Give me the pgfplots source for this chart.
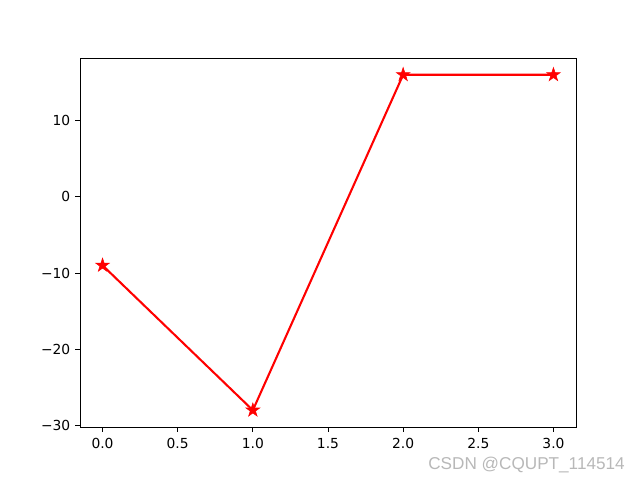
\documentclass[border=0pt]{standalone}
\usepackage{fontspec}
\setmainfont{DejaVu Sans}
\newfontfamily\wmfont{Liberation Sans}
\usepackage{pgfplots}
\pgfplotsset{compat=1.18}
\pgfdeclareplotmark{fstar}{%
  \pgfpathmoveto{\pgfpointpolar{90}{\pgfplotmarksize}}%
  \pgfpathlineto{\pgfpointpolar{126}{0.382\pgfplotmarksize}}%
  \pgfpathlineto{\pgfpointpolar{162}{\pgfplotmarksize}}%
  \pgfpathlineto{\pgfpointpolar{198}{0.382\pgfplotmarksize}}%
  \pgfpathlineto{\pgfpointpolar{234}{\pgfplotmarksize}}%
  \pgfpathlineto{\pgfpointpolar{270}{0.382\pgfplotmarksize}}%
  \pgfpathlineto{\pgfpointpolar{306}{\pgfplotmarksize}}%
  \pgfpathlineto{\pgfpointpolar{342}{0.382\pgfplotmarksize}}%
  \pgfpathlineto{\pgfpointpolar{18}{\pgfplotmarksize}}%
  \pgfpathlineto{\pgfpointpolar{54}{0.382\pgfplotmarksize}}%
  \pgfpathclose
  \pgfusepathqfillstroke}
\begin{document}
\begin{tikzpicture}
\path[use as bounding box] (0,0) rectangle (6.4in,4.8in);
\begin{axis}[
  at={(0.8in,0.53in)}, anchor=south west,
  scale only axis, width=4.96in, height=3.69in,
  xmin=-0.15, xmax=3.15, ymin=-30.2, ymax=18.2,
  xtick={0,0.5,1,1.5,2,2.5,3},
  xticklabels={0.0,0.5,1.0,1.5,2.0,2.5,3.0},
  ytick={-30,-20,-10,0,10},
  yticklabels={−30,−20,−10,0,10},
  tick align=outside, tick pos=lower,
  major tick length=3.5pt,
  every tick/.style={black, line width=0.6pt},
  axis line style={line width=0.6pt},
  tick label style={font=\fontsize{10}{12}\selectfont},
  xticklabel shift=1pt,
]
\addplot[red, line width=1.5pt, mark=fstar, mark size=5.2pt, mark options={fill=red, line width=0.4pt}]
  coordinates {(0,-9) (1,-28) (2,16) (3,16)};
\end{axis}
\node[anchor=base east, text=black!28, font=\wmfont\fontsize{12.4}{15}\selectfont, inner sep=0pt] at (6.25in,0.1in) {CSDN @CQUPT\_114514};
\end{tikzpicture}
\end{document}
